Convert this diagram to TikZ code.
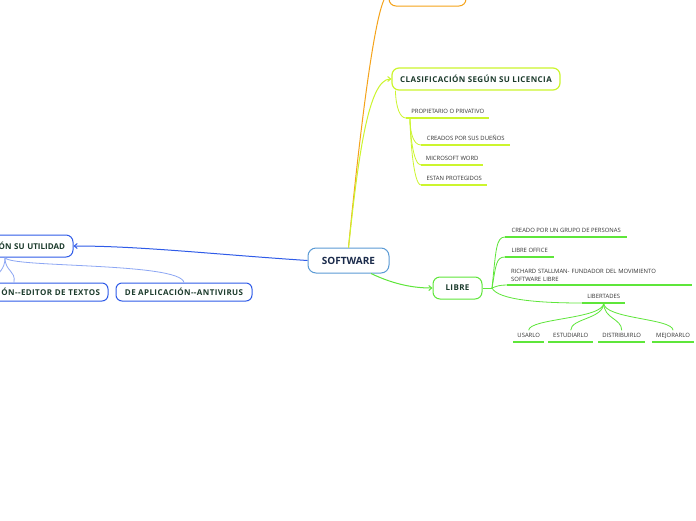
\documentclass[tikz,border=0pt]{standalone}
\usepackage{fontspec}
\setmainfont{Open Sans}
\usetikzlibrary{arrows.meta,positioning,calc}
\definecolor{ink}{HTML}{1C3B2C}
\definecolor{navy}{HTML}{1B2B4B}
\definecolor{leaftext}{HTML}{333333}
\definecolor{rootline}{HTML}{5B9BD5}
\definecolor{blueb}{HTML}{2F5BE8}
\definecolor{bluesub}{HTML}{8CA6F4}
\definecolor{orangeb}{HTML}{F5A31A}
\definecolor{lic}{HTML}{CCF52E}
\definecolor{libreg}{HTML}{5EE63A}
\tikzset{
  >={Straight Barb[length=3pt,width=5pt]},
  root/.style={draw=rootline,line width=1pt,rounded corners=8pt,fill=white,minimum width=81pt,minimum height=25pt,font=\fontsize{10}{12}\selectfont\bfseries,text=navy},
  topic/.style={line width=1pt,rounded corners=7pt,fill=white,minimum height=22pt,font=\fontsize{8}{9}\selectfont\bfseries\addfontfeatures{LetterSpace=5},text=ink,inner xsep=8pt},
  subtopic/.style={topic,minimum height=18pt,rounded corners=6pt},
  leafbase/.style={anchor=south west,font=\fontsize{5.9}{8.7}\selectfont,text=leaftext,inner xsep=4pt,inner ysep=3pt},
  leaf/.style={leafbase,text height=4.3pt,text depth=1pt},
  branch/.style={->,line width=1pt,draw=#1},
  twig/.style={line width=0.8pt,draw=#1},
  uline/.style={line width=1.4pt,draw=#1},
}

\begin{document}
\begin{tikzpicture}[x=1pt,y=-1pt]
\useasboundingbox (0,0) rectangle (696,520);
\clip (0,0) rectangle (696,520);
\fill[white] (0,0) rectangle (696,520);

\node[root] (soft) at (348.5,260.5) {SOFTWARE};

% segun su utilidad
\node[topic,draw=blueb,text width=120pt,inner xsep=8pt,align=right,font=\fontsize{8}{9}\selectfont\bfseries] (util) at (5,246) {ÓN SU UTILIDAD};
\node[subtopic,draw=blueb,text width=172pt,inner xsep=8pt,align=right] (editor) at (14,292) {ÓN-{}-EDITOR DE TEXTOS};
\node[subtopic,draw=blueb,minimum width=136pt] (antiv) at (184,292) {DE APLICACIÓN-{}-ANTIVIRUS};
\coordinate (offleft) at (-6,280);

\draw[branch=blueb] (soft.west) .. controls (210,254) and (140,246) .. (util.east);
\draw[twig=bluesub] (util.south) .. controls (5,272) and (16,270) .. (editor.north);
\draw[twig=bluesub] (util.south) .. controls (8,268) and (180,262) .. (antiv.north);
\draw[twig=bluesub] (util.south) .. controls (5,270) and (-2,272) .. (offleft);

% rama naranja (fuera del marco)
\node[topic,draw=orangeb,minimum width=77pt] (top) at (427.5,-5) {};
\draw[branch=orangeb] (soft.north) .. controls (358,150) and (375,0) .. (top.west);

% segun su licencia
\node[topic,draw=lic,line width=1.2pt,minimum width=168pt] (clasif) at (476,79) {CLASIFICACIÓN SEGÚN SU LICENCIA};
\draw[branch=lic] (soft.north) .. controls (358,160) and (368,79) .. (clasif.west);

\node[leaf,minimum width=83pt] (prop) at (406,118) {PROPIETARIO O PRIVATIVO};
\node[leaf,minimum width=89pt] (creados) at (421,145) {CREADOS POR SUS DUEÑOS};
\node[leaf,minimum width=62pt] (word) at (421,165) {MICROSOFT WORD};
\node[leaf,minimum width=66pt] (proteg) at (421,185) {ESTAN PROTEGIDOS};

\draw[twig=lic] ($(clasif.south west)+(4,0)$) .. controls (396,108) and (400,118) .. (prop.south west);
\foreach \n in {creados,word,proteg}
  \draw[twig=lic] ($(prop.south west)+(4,0)$) .. controls +(0,14) and +(-8,0) .. (\n.south west);

% libre
\node[topic,draw=libreg,minimum width=49pt,inner xsep=4pt] (libre) at (457.5,288) {LIBRE};
\draw[branch=libreg] (soft.-30) .. controls (395,285) and (415,288) .. (libre.west);
\coordinate (lhub) at (492,288);

\node[leaf,minimum width=122pt] (grupo) at (505,237) {CREADO POR UN GRUPO DE PERSONAS};
\node[leaf,minimum width=49pt] (office) at (505,257) {LIBRE OFFICE};
\node[leafbase,text width=177pt,inner xsep=4pt,align=left] (stallman) at (507,285) {RICHARD STALLMAN- FUNDADOR DEL MOVIMIENTO\\SOFTWARE LIBRE};
\node[leaf,minimum width=43pt] (libertades) at (582,303) {LIBERTADES};

\draw[twig=libreg] (libre.east) -- (lhub);
\draw[twig=libreg] (lhub) .. controls (496,250) and (496,237) .. (grupo.south west);
\draw[twig=libreg] (lhub) .. controls (496,265) and (496,257) .. (office.south west);
\draw[twig=libreg] (lhub) .. controls (497,286) and (500,285) .. (stallman.south west);
\draw[twig=libreg] (lhub) .. controls (498,300) and (540,303) .. (libertades.south west);

\node[leaf,minimum width=31pt] (usarlo) at (513,342) {USARLO};
\node[leaf,minimum width=45pt] (estudiarlo) at (548,342) {ESTUDIARLO};
\node[leaf,minimum width=47pt] (distribuirlo) at (598,342) {DISTRIBUIRLO};
\node[leaf,minimum width=37pt] (mejorarlo) at (652,342) {MEJORARLO};

\foreach \n in {usarlo,estudiarlo,distribuirlo,mejorarlo}
  \draw[twig=libreg] (libertades.south) .. controls +(0,16) and +(0,-12) .. (\n.north);

% subrayados
\foreach \n/\c in {prop/lic,creados/lic,word/lic,proteg/lic,grupo/libreg,office/libreg,stallman/libreg,libertades/libreg,usarlo/libreg,estudiarlo/libreg,distribuirlo/libreg,mejorarlo/libreg}
  \draw[uline=\c] (\n.south west) -- (\n.south east);

\end{tikzpicture}
\end{document}
